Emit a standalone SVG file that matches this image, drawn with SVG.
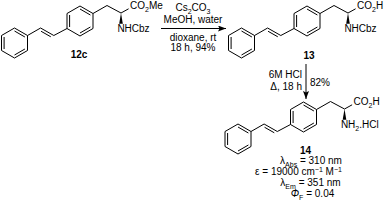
<svg xmlns="http://www.w3.org/2000/svg" xmlns:xlink="http://www.w3.org/1999/xlink" width="385" height="207" viewBox="0 0 385 207">
<style>
.b{fill:none;stroke:#000;stroke-width:1;stroke-linejoin:miter}
.w{fill:#000;stroke:none}
text{font-family:"Liberation Sans",Arial,Helvetica,sans-serif;font-size:10px;fill:#000}
.lbl{font-weight:bold}
.c{text-anchor:middle}
.r{text-anchor:end}
</style>
<defs>
<marker id="ah" markerUnits="userSpaceOnUse" markerWidth="10" markerHeight="8" refX="8" refY="3" orient="auto">
<path d="M0,0 L8,3 L0,6 L1.5,3 Z" fill="#000"/>
</marker>
<g id="skel">
<path class="b" d="M14.5,28 L27.5,35.5 L27.5,50.5 L14.5,58 L1.5,50.5 L1.5,35.5 Z M14.5,31 L24.9,37 M24.9,49 L14.5,55 M4.1,49 L4.1,37"/>
<path class="b" d="M27.5,35.5 L40.6,28 L53.8,35.5 L67,28.5 M41.06,31.25 L50.78,36.77"/>
<path class="b" d="M80,6 L93,13.5 L93,28.5 L80,36 L67,28.5 L67,13.5 Z M80,9 L90.4,15 M90.4,27 L80,33 M69.6,27 L69.6,15"/>
<path class="b" d="M93,13.5 L107,5.5 L121,13 L128.6,8.8"/>
<polygon class="w" points="121,13 119.2,23.8 122.8,23.8"/>
</g>
</defs>

<g id="c12c">
<use xlink:href="#skel" href="#skel"/>
<text x="130" y="9">CO<tspan font-size="7" dy="2.5">2</tspan><tspan dy="-2.5">Me</tspan></text>
<text x="117.4" y="32">NHCbz</text>
<text class="lbl c" x="79" y="57.5">12c</text>
</g>

<g id="c13" transform="translate(227,0)">
<use xlink:href="#skel" href="#skel"/>
<text x="130" y="9">CO<tspan font-size="7" dy="2.5">2</tspan><tspan dy="-2.5">H</tspan></text>
<text x="117.4" y="32">NHCbz</text>
<text class="lbl c" x="82" y="58.5">13</text>
</g>

<g id="c14">
<g transform="translate(223.5,96)">
<use xlink:href="#skel" href="#skel"/>
<text x="130" y="9">CO<tspan font-size="7" dy="2.5">2</tspan><tspan dy="-2.5">H</tspan></text>
<text x="117.4" y="32">NH<tspan font-size="7" dy="2.5">2</tspan><tspan dy="-2.5">.HCl</tspan></text>
</g>
<text class="lbl c" x="305.5" y="153.5">14</text>
<text class="c" x="311" y="164">λ<tspan font-size="7" dy="2.5">Abs</tspan><tspan dy="-2.5"> = 310 nm</tspan></text>
<text class="c" x="298.5" y="175">ε = 19000 cm<tspan font-size="7" dy="-3.5">−1</tspan><tspan dy="3.5"> M</tspan><tspan font-size="7" dy="-3.5">−1</tspan></text>
<text class="c" x="310.5" y="186">λ<tspan font-size="7" dy="2.5">Em</tspan><tspan dy="-2.5"> = 351 nm</tspan></text>
<text class="c" x="312.5" y="197"><tspan font-style="italic">Φ</tspan><tspan font-size="7" dy="2.5">F</tspan><tspan dy="-2.5"> = 0.04</tspan></text>
</g>

<g id="connectors">
<line class="b" x1="161" y1="28.5" x2="226" y2="28.5" marker-end="url(#ah)"/>
<line class="b" x1="306" y1="64" x2="306" y2="99" marker-end="url(#ah)"/>
</g>

<g id="conditions">
<text class="c" x="193" y="11">Cs<tspan font-size="7" dy="2.5">2</tspan><tspan dy="-2.5">CO</tspan><tspan font-size="7" dy="2.5">3</tspan></text>
<text class="c" x="193" y="23">MeOH, water</text>
<text class="c" x="193" y="40.5">dioxane, rt</text>
<text class="c" x="193" y="50.5">18 h, 94%</text>
<text class="r" x="302" y="77.5">6M HCl</text>
<text class="r" x="302" y="89.5">Δ, 18 h</text>
<text x="310" y="85.5">82%</text>
</g>
</svg>
